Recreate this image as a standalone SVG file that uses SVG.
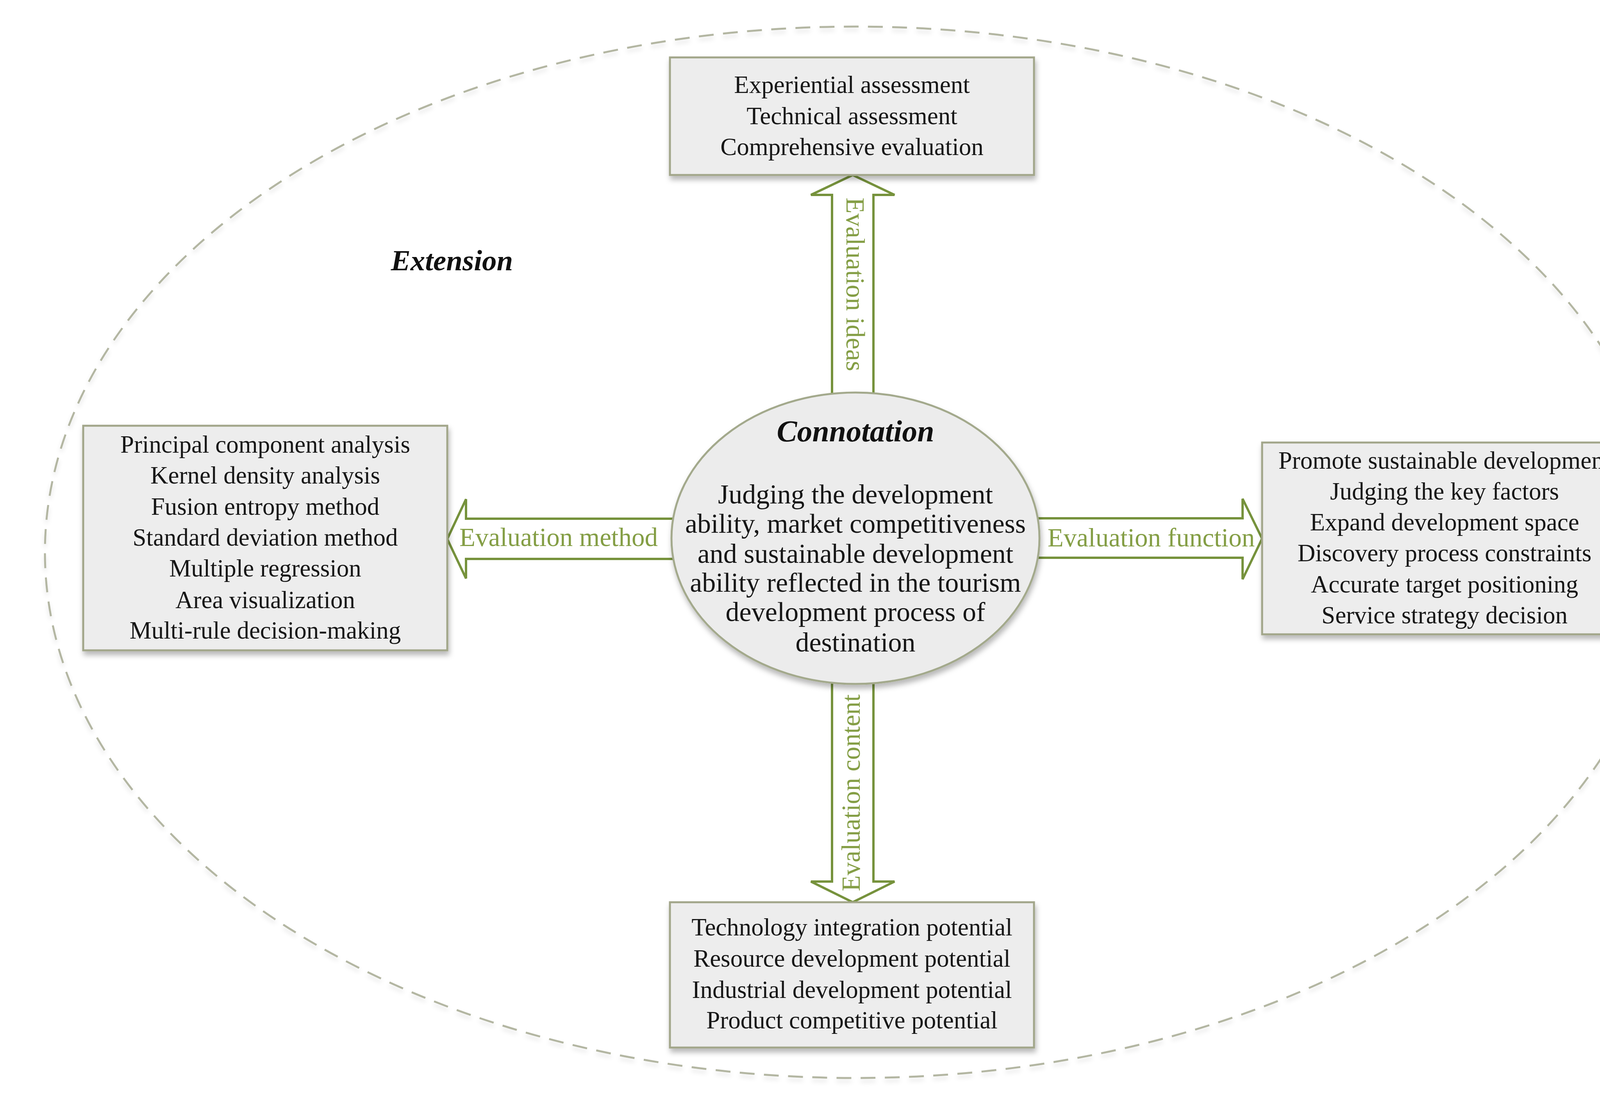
<svg xmlns="http://www.w3.org/2000/svg" width="4324" height="2824" viewBox="0 0 4324 2824">
<defs>
<filter id="sh" x="-10%" y="-10%" width="130%" height="140%">
<feDropShadow dx="3" dy="10" stdDeviation="7" flood-color="#000" flood-opacity="0.28"/>
</filter>
<filter id="shl" x="-5%" y="-5%" width="110%" height="110%">
<feDropShadow dx="0" dy="8" stdDeviation="6" flood-color="#000" flood-opacity="0.12"/>
</filter>
<style>
.box{fill:#ededed;stroke:#a2a68a;stroke-width:5;filter:url(#sh)}
.txt{font-family:"Liberation Serif","Times New Roman",serif;font-size:63px;fill:#161616;text-anchor:middle}
.ctxt{font-family:"Liberation Serif","Times New Roman",serif;font-size:70px;fill:#161616;text-anchor:middle}
.head{font-family:"Liberation Serif","Times New Roman",serif;font-weight:bold;font-style:italic;fill:#111;text-anchor:middle}
.arrow{fill:#ffffff;stroke:#76923c;stroke-width:6;stroke-linejoin:miter}
.lbl{font-family:"Liberation Serif","Times New Roman",serif;font-size:67px;fill:#849e45;text-anchor:middle}
</style>
</defs>
<rect width="4324" height="2824" fill="#ffffff"/>

<g id="extension">
<ellipse cx="2190" cy="1414" rx="2075" ry="1346" fill="none" stroke="#b3b6a2" stroke-width="5" stroke-dasharray="38 24" filter="url(#shl)"/>
<text class="head" x="1157" y="692" font-size="75">Extension</text>
</g>

<g id="connectors">
<g id="arrow-ideas">
<polygon class="arrow" points="2130,1010 2130,499 2076,499 2183,448 2290,499 2236,499 2236,1010"/>
<text class="lbl" transform="translate(2167,728) rotate(90)">Evaluation ideas</text>
</g>
<g id="arrow-content">
<polygon class="arrow" points="2130,1745 2236,1745 2236,2257 2290,2257 2183,2310 2076,2257 2130,2257"/>
<text class="lbl" transform="translate(2201,2030) rotate(-90)">Evaluation content</text>
</g>
<g id="arrow-method">
<polygon class="arrow" points="1728,1328 1193,1328 1193,1278 1145,1380 1193,1481 1193,1431 1728,1431"/>
<text class="lbl" x="1430" y="1398">Evaluation method</text>
</g>
<g id="arrow-function">
<polygon class="arrow" points="2652,1327 3181,1327 3181,1277 3231,1379 3181,1483 3181,1428 2652,1428"/>
<text class="lbl" x="2947" y="1399">Evaluation function</text>
</g>
</g>

<g id="node-connotation">
<ellipse cx="2190" cy="1378" rx="471" ry="373" fill="#ececec" stroke="#a3a98c" stroke-width="5" filter="url(#sh)"/>
<text class="head" x="2190" y="1130" font-size="78">Connotation</text>
<text class="ctxt" x="2190" y="1289">Judging the development</text>
<text class="ctxt" x="2190" y="1364">ability, market competitiveness</text>
<text class="ctxt" x="2190" y="1441">and sustainable development</text>
<text class="ctxt" x="2190" y="1515">ability reflected in the tourism</text>
<text class="ctxt" x="2190" y="1590">development process of</text>
<text class="ctxt" x="2190" y="1668">destination</text>
</g>

<g id="node-ideas">
<rect class="box" x="1715" y="147" width="932" height="301"/>
<text class="txt" x="2181" y="238">Experiential assessment</text>
<text class="txt" x="2181" y="318">Technical assessment</text>
<text class="txt" x="2181" y="397">Comprehensive evaluation</text>
</g>

<g id="node-method">
<rect class="box" x="213" y="1090" width="932" height="575"/>
<text class="txt" x="679" y="1159">Principal component analysis</text>
<text class="txt" x="679" y="1238">Kernel density analysis</text>
<text class="txt" x="679" y="1318">Fusion entropy method</text>
<text class="txt" x="679" y="1397">Standard deviation method</text>
<text class="txt" x="679" y="1476">Multiple regression</text>
<text class="txt" x="679" y="1557">Area visualization</text>
<text class="txt" x="679" y="1635">Multi-rule decision-making</text>
</g>

<g id="node-function">
<rect class="box" x="3231" y="1133" width="934" height="491"/>
<text class="txt" x="3698" y="1200">Promote sustainable development</text>
<text class="txt" x="3698" y="1279">Judging the key factors</text>
<text class="txt" x="3698" y="1358">Expand development space</text>
<text class="txt" x="3698" y="1437">Discovery process constraints</text>
<text class="txt" x="3698" y="1517">Accurate target positioning</text>
<text class="txt" x="3698" y="1596">Service strategy decision</text>
</g>

<g id="node-content">
<rect class="box" x="1715" y="2310" width="932" height="372"/>
<text class="txt" x="2181" y="2395">Technology integration potential</text>
<text class="txt" x="2181" y="2475">Resource development potential</text>
<text class="txt" x="2181" y="2555">Industrial development potential</text>
<text class="txt" x="2181" y="2633">Product competitive potential</text>
</g>
</svg>
